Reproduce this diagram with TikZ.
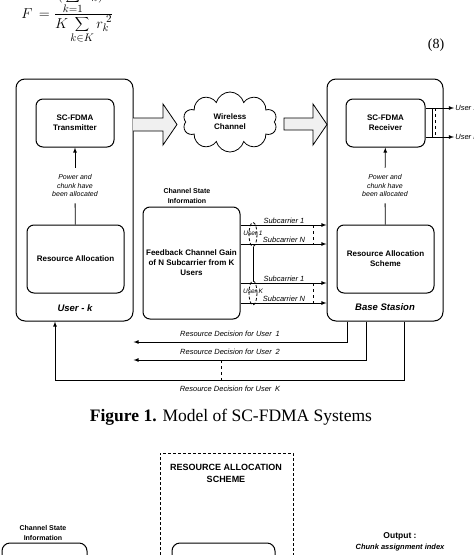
\documentclass[tikz,border=0pt]{standalone}
\usepackage{fontspec}
\setmainfont{Liberation Serif}
\newfontfamily\arial{Liberation Sans}
\usetikzlibrary{shapes.symbols}
\tikzset{
  box/.style={draw,line width=1pt,rounded corners=7pt,align=center,inner xsep=1pt,font=\arial\bfseries\fontsize{8}{10}\selectfont},
  frame/.style={draw,line width=1pt,rounded corners=9pt},
  lbl/.style={font=\arial\itshape\fontsize{7.5}{9}\selectfont,inner sep=1pt},
  note/.style={font=\arial\itshape\fontsize{7}{8.5}\selectfont,align=center,inner ysep=6.5pt},
  head/.style={font=\arial\bfseries\fontsize{7}{10}\selectfont,align=center},
  owner/.style={font=\arial\bfseries\itshape\fontsize{9.5}{11}\selectfont},
  bigarrow/.style={draw,line width=0.8pt,fill=gray!12},
}
\begin{document}
\begin{tikzpicture}[>=latex,x=1pt,y=-1pt,line width=0.8pt]
\useasboundingbox (0,0) rectangle (474,555);
% equation (8)
\node[anchor=base west,font=\fontsize{15}{17}\selectfont,inner sep=0pt] (eq) at (21,18) {$F\,=\frac{\displaystyle\Bigl(\sum_{k=1}^{K} r_k\Bigr)^{2}}{\displaystyle K\sum_{k\in K} r_k^{\;2}}$};
\node[font=\fontsize{14}{16}\selectfont] (eqno) at (436,45) {(8)};
% user and base station
\node[frame,minimum width=117pt,minimum height=242pt] (user) at (74.5,200) {};
\node[frame,minimum width=116pt,minimum height=242pt] (base) at (385,200) {};
\node[box,minimum width=78pt,minimum height=48pt] (tx) at (75,123) {SC-FDMA\\Transmitter};
\node[box,minimum width=79pt,minimum height=48pt] (rx) at (385.5,123) {SC-FDMA\\Receiver};
\node[box,minimum width=97pt,minimum height=68pt] (ra) at (75.5,259) {Resource Allocation};
\node[box,minimum width=97pt,minimum height=68pt] (ras) at (385.5,259) {Resource Allocation\\Scheme};
\node[note] (pw1) at (75,185.5) {Power and\\chunk have\\been allocated};
\node[note] (pw2) at (385,185.5) {Power and\\chunk have\\been allocated};
\draw[->] (pw1) -- (tx);
\draw (ra) -- (pw1);
\draw[->] (pw2) -- (rx);
\draw (ras) -- (pw2);
\node[owner] (uk) at (75,308) {User - k};
\node[owner] (bs) at (385,307) {Base Stasion};
% wireless channel
\node[cloud,draw,cloud puffs=10,aspect=1.6,minimum width=94pt,minimum height=60pt,head,font=\arial\bfseries\fontsize{8}{10}\selectfont] (ch) at (230,122) {Wireless\\Channel};
\draw[bigarrow] (133,131) -- (163,131) -- (163,145) -- (177,124.5) -- (163,104) -- (163,118) -- (133,118);
\draw[bigarrow] (284,130) -- (313,130) -- (313,145) -- (327,124.5) -- (313,104) -- (313,118) -- (284,118) -- cycle;
% outputs of the receiver
\coordinate (o1) at (454,108);
\coordinate (o2) at (454,137);
\draw[->] (rx.east |- o1) -- (o1) node[lbl,right] (ou1) {User 1};
\draw[->] (rx.east |- o2) -- (o2) node[lbl,right] (ou2) {User K};
\draw (432.5,108) -- (432.5,137);
\draw[dashed] (435,108) -- (435,137);
% channel state feedback
\node[head] (csi) at (187,196) {Channel State\\Information};
\node[box,minimum width=97pt,minimum height=112pt] (fb) at (191.5,263) {Feedback Channel Gain\\of N Subcarrier from K\\Users};
\foreach \y/\n in {225/a,244/b,283/c,303/d}{
  \coordinate (sc\n) at (0,\y);
  \draw[->] (fb.east |- sc\n) -- (base.west |- sc\n);
}
\node[lbl,above] (sa1) at (284,225) {Subcarrier 1};
\node[lbl,above] (san) at (284,244) {Subcarrier N};
\node[lbl,above] (sk1) at (284,283) {Subcarrier 1};
\node[lbl,above] (skn) at (284,303) {Subcarrier N};
\node[lbl,font=\arial\itshape\fontsize{6.5}{8}\selectfont] (us1) at (253,233) {User 1};
\node[lbl,font=\arial\itshape\fontsize{6.5}{8}\selectfont] (usk) at (253,291) {User K};
\draw[dashed] (313,225) -- (313,244);
\draw[dashed] (313,283) -- (313,303);
\draw[densely dashed] (253,234.5) ellipse (4 and 12);
\draw[densely dashed] (253,293) ellipse (4 and 12);
\draw (253,246.5) -- (253,281);
% resource decisions back to the users
\coordinate (d1) at (347,342);
\coordinate (d2) at (366,360);
\coordinate (dk) at (404,380);
\coordinate (dl) at (55,380);
\draw[->] (base.south -| d1) |- (user.east |- d1);
\draw[->] (base.south -| d2) |- (user.east |- d2);
\draw[->] (base.south -| dk) |- (dl) -- (user.south -| dl);
\draw[dashed] (221,360) -- (221,380);
\node[lbl] (rd1) at (230,334) {Resource Decision for User\enspace 1};
\node[lbl] (rd2) at (230,352) {Resource Decision for User\enspace 2};
\node[lbl] (rdk) at (230,389) {Resource Decision for User\enspace K};
% caption
\node[font=\fontsize{17.5}{20}\selectfont] (cap) at (231,417) {\textbf{Figure 1.} Model of SC-FDMA Systems};
% next figure
\draw[densely dashed,line width=1pt] (160,575) -- (160,453) -- (293,453) -- (293,575);
\node[head,font=\arial\bfseries\fontsize{9}{12}\selectfont] (rast) at (226,473) {RESOURCE ALLOCATION\\SCHEME};
\draw[line width=1pt,rounded corners=8pt] (172,580) -- (172,543) -- (275,543) -- (275,580);
\node[head] (csi2) at (43,533) {Channel State\\Information};
\draw[line width=1pt,rounded corners=8pt] (2,580) -- (2,543) -- (87,543) -- (87,580);
\node[font=\arial\bfseries\fontsize{8.5}{10}\selectfont] (out) at (400,536) {Output :};
\node[font=\arial\bfseries\itshape\fontsize{7.5}{9}\selectfont] (chk) at (400,548) {Chunk assignment index};
\end{tikzpicture}
\end{document}
